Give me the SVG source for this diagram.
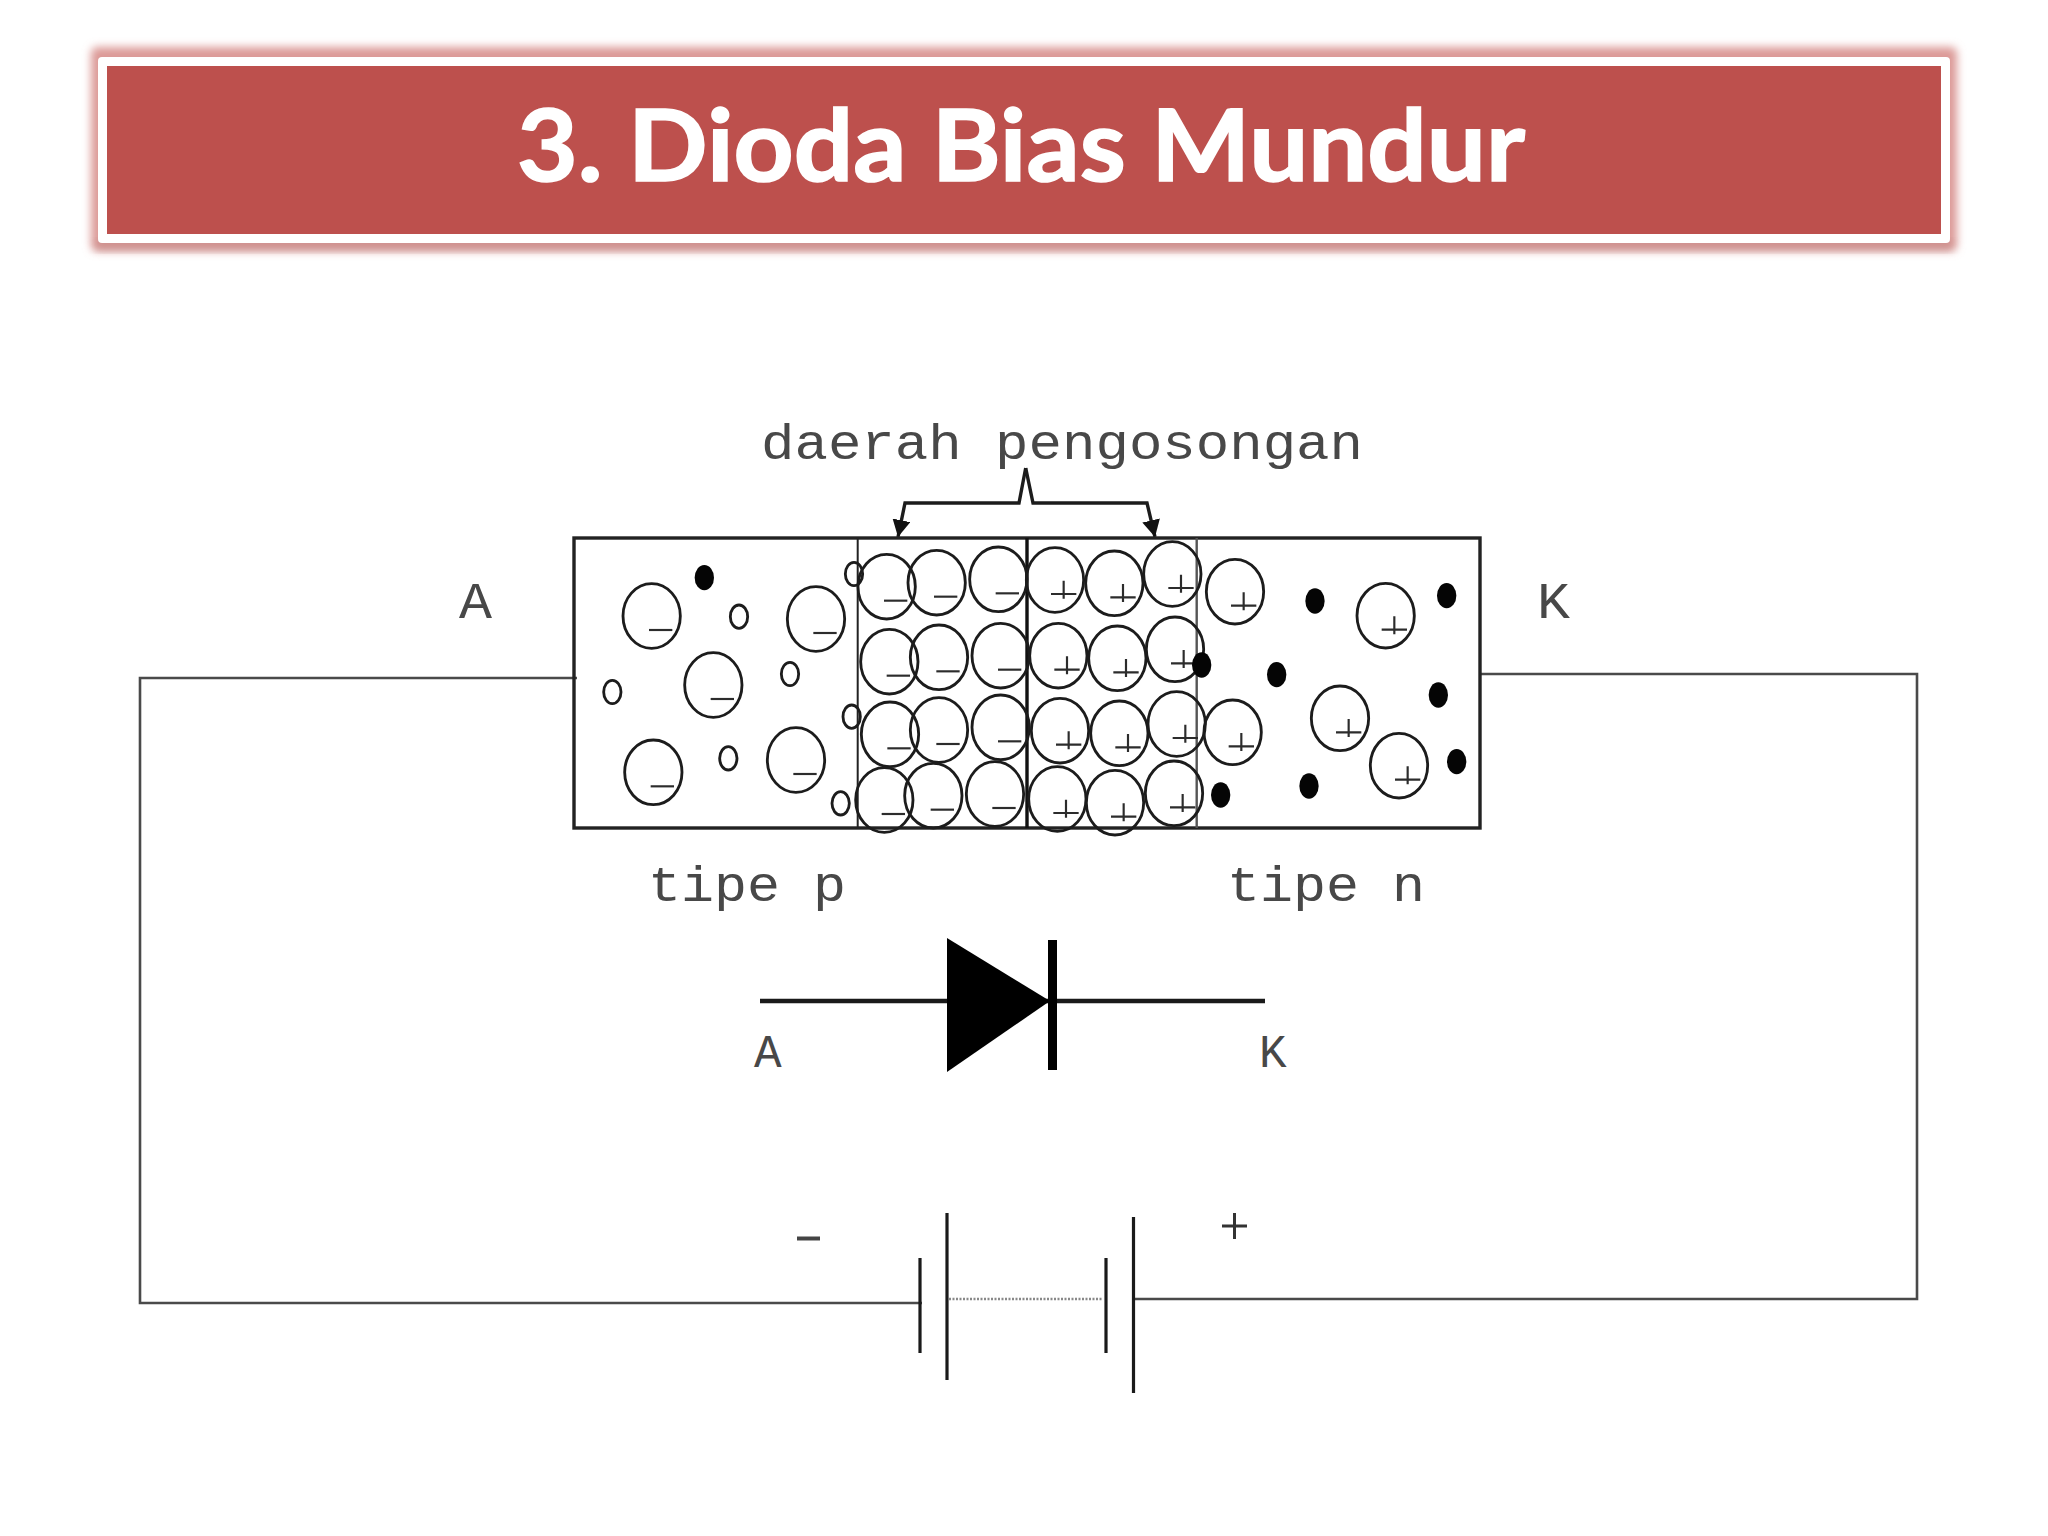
<svg xmlns="http://www.w3.org/2000/svg" xmlns:xlink="http://www.w3.org/1999/xlink" width="2048" height="1536" viewBox="0 0 2048 1536">
<style>
.mono{font-family:"Liberation Mono","DejaVu Sans Mono",monospace;fill:#484848}
.wire{fill:none;stroke:#4a4a4a;stroke-width:2.6}
.ion{fill:none;stroke:#1c1c1c;stroke-width:8.5}
.sign{fill:none;stroke:#2c2c2c;stroke-width:6.5}
.e{fill:#050505}
.plate{stroke:#1a1a1a;stroke-width:3.2;fill:none}
</style>
<defs>
<filter id="glow" x="-5%" y="-20%" width="110%" height="140%"><feGaussianBlur stdDeviation="4.5"/></filter>
<marker id="head" markerUnits="userSpaceOnUse" markerWidth="20" markerHeight="20" refX="17" refY="9" orient="auto"><path d="M0 0L17 9L0 18Z" fill="#111"/></marker>
<g id="neg"><ellipse class="ion" rx="86" ry="97"/><path class="sign" d="M-8 42H62"/></g>
<g id="pos"><ellipse class="ion" rx="86" ry="97"/><path class="sign" d="M-12 42H64M26 2V56"/></g>
<ellipse id="hole" class="ion" rx="26" ry="35"/>
<ellipse id="el" class="e" rx="29" ry="38"/>
</defs>
<rect width="2048" height="1536" fill="#fff"/>

<g id="title">
<rect x="91" y="47" width="1866" height="204" rx="6" fill="#dc9a97" filter="url(#glow)"/>
<rect x="96" y="240" width="1856" height="11" fill="#b8807e" opacity=".45" filter="url(#glow)"/>
<rect x="98" y="57" width="1852" height="186" rx="4" fill="#fff"/>
<rect x="107" y="66" width="1834" height="168" fill="#bd504d"/>
<text x="1021" y="181" text-anchor="middle" font-family="Lato,'Open Sans',sans-serif" font-weight="700" font-size="100" fill="#fff" stroke="#fff" stroke-width="1.6" textLength="1008" lengthAdjust="spacingAndGlyphs">3. Dioda Bias Mundur</text>
</g>

<g id="connectors">
<path id="wire-anode" class="wire" d="M577 678H140V1303H922"/>
<path id="wire-cathode" class="wire" d="M1480 674H1917V1299H1134"/>
<path id="battery-link" d="M949 1299H1102" fill="none" stroke="#888" stroke-width="2.5" stroke-dasharray="2 1.5"/>
<path id="bracket-left" fill="none" stroke="#1c1c1c" stroke-width="3.4" marker-end="url(#head)" d="M1025.7 468L1019 503H905L898 537"/>
<path id="bracket-right" fill="none" stroke="#1c1c1c" stroke-width="3.4" marker-end="url(#head)" d="M1025.7 468L1033 503H1147L1155 537"/>
</g>

<g id="junction">
<rect x="574" y="538" width="906" height="290" fill="none" stroke="#222" stroke-width="3.4"/>
<path d="M857.7 538V828" stroke="#222" stroke-width="2" fill="none"/>
<path d="M1027 538V828" stroke="#111" stroke-width="3.4" fill="none"/>
<path d="M1196.7 538V828" stroke="#555" stroke-width="2.4" fill="none"/>
</g>

<g id="p-region" transform="translate(540 400) scale(.33333)">
<use xlink:href="#neg" href="#neg" x="335" y="648"/><use href="#neg" x="828" y="657"/><use href="#neg" x="520" y="855"/><use href="#neg" x="768" y="1080"/><use href="#neg" x="340" y="1117"/>
<use href="#hole" x="597" y="650"/><use href="#hole" x="217" y="876"/><use href="#hole" x="750" y="822"/><use href="#hole" x="565" y="1075"/><use href="#hole" x="942" y="522"/><use href="#hole" x="935" y="950"/><use href="#hole" x="902" y="1210"/>
<use href="#el" x="493" y="533"/>
<use href="#neg" x="1040" y="560"/><use href="#neg" x="1190" y="548"/><use href="#neg" x="1375" y="538"/>
<use href="#neg" x="1048" y="785"/><use href="#neg" x="1197" y="772"/><use href="#neg" x="1382" y="767"/>
<use href="#neg" x="1050" y="1003"/><use href="#neg" x="1197" y="990"/><use href="#neg" x="1382" y="982"/>
<use href="#neg" x="1033" y="1200"/><use href="#neg" x="1180" y="1187"/><use href="#neg" x="1365" y="1182"/>
</g>

<g id="n-region" transform="translate(1020 400) scale(.33333)">
<use href="#pos" x="105" y="540"/><use href="#pos" x="283" y="550"/><use href="#pos" x="457" y="522"/>
<use href="#pos" x="115" y="767"/><use href="#pos" x="292" y="775"/><use href="#pos" x="465" y="748"/>
<use href="#pos" x="120" y="992"/><use href="#pos" x="298" y="1000"/><use href="#pos" x="470" y="972"/>
<use href="#pos" x="112" y="1197"/><use href="#pos" x="285" y="1208"/><use href="#pos" x="462" y="1180"/>
<use href="#pos" x="645" y="575"/><use href="#pos" x="1097" y="647"/><use href="#pos" x="960" y="955"/><use href="#pos" x="1137" y="1097"/><use href="#pos" x="638" y="997"/>
<use href="#el" x="885" y="603"/><use href="#el" x="1280" y="587"/><use href="#el" x="545" y="795"/><use href="#el" x="770" y="824"/><use href="#el" x="1255" y="885"/><use href="#el" x="1310" y="1085"/><use href="#el" x="602" y="1185"/><use href="#el" x="867" y="1158"/>
</g>

<g id="labels">
<text class="mono" x="761" y="459" font-size="50" textLength="602" lengthAdjust="spacingAndGlyphs">daerah pengosongan</text>
<text class="mono" x="459" y="618" font-size="52" textLength="33" lengthAdjust="spacingAndGlyphs">A</text>
<text class="mono" x="1537" y="618" font-size="52" textLength="33" lengthAdjust="spacingAndGlyphs">K</text>
<text class="mono" x="648" y="901" font-size="50" textLength="198" lengthAdjust="spacingAndGlyphs">tipe p</text>
<text class="mono" x="1227" y="901" font-size="50" textLength="198" lengthAdjust="spacingAndGlyphs">tipe n</text>
<text class="mono" x="754" y="1067" font-size="46">A</text>
<text class="mono" x="1259" y="1067" font-size="46">K</text>
</g>

<g id="diode">
<path d="M760 1001H1265" stroke="#1a1a1a" stroke-width="4.5" fill="none"/>
<path d="M947 938L1050 1001L947 1072Z" fill="#000"/>
<rect x="1048" y="940" width="9" height="130" fill="#000"/>
</g>

<g id="battery">
<path class="plate" d="M920 1258V1353"/>
<path class="plate" d="M947 1213V1380"/>
<path class="plate" d="M1106 1258V1353"/>
<path class="plate" d="M1133.5 1217V1393"/>
<path d="M797 1238.5H820" stroke="#444" stroke-width="4" fill="none"/>
<path d="M1222 1226H1247M1234.5 1213V1239" stroke="#333" stroke-width="3" fill="none"/>
</g>
</svg>
